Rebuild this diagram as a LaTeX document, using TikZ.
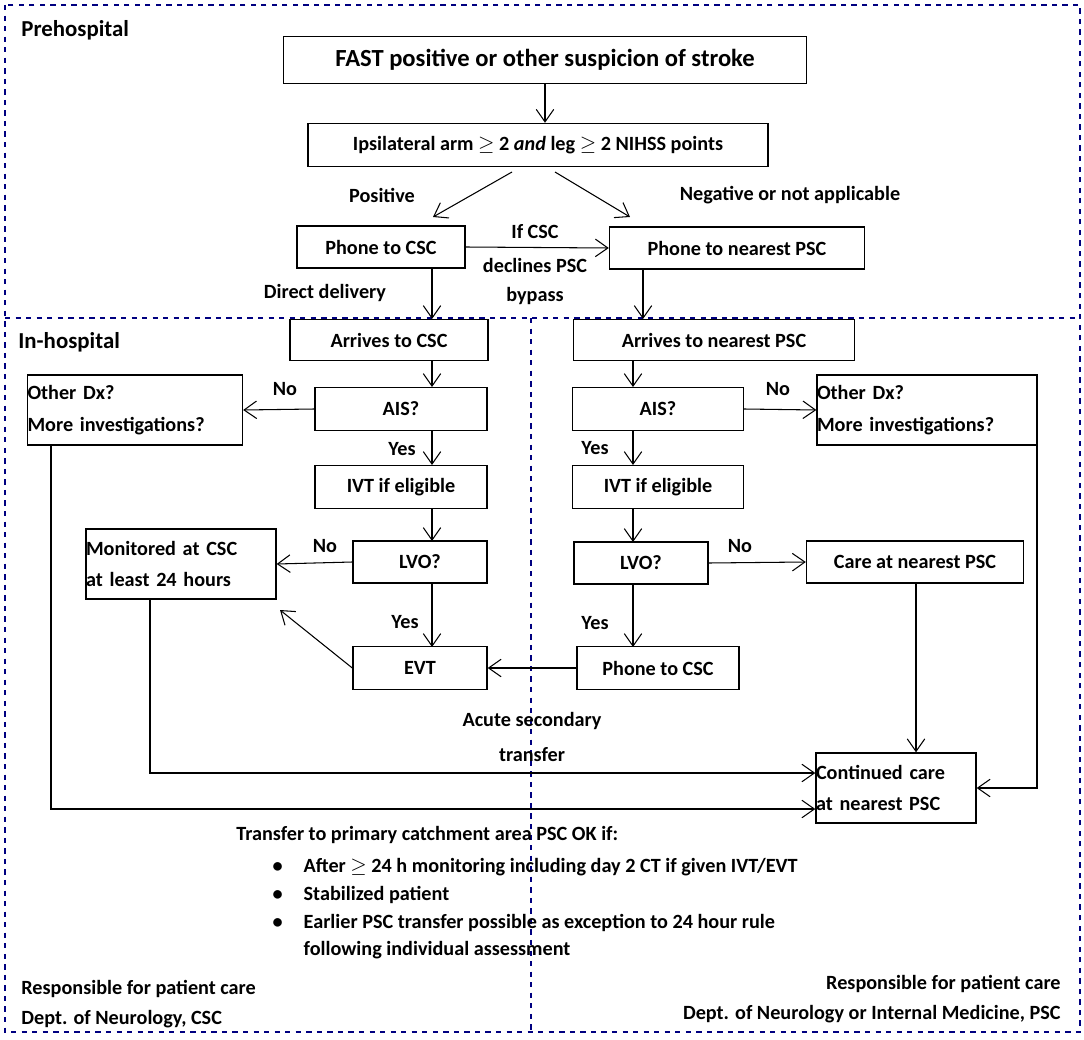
\documentclass[tikz,border=0pt]{standalone}
\usepackage{fontspec}
\setmainfont{Carlito}
\usepackage{amssymb}
\usetikzlibrary{positioning}
\usetikzlibrary{arrows.meta}
\newcommand{\px}{0.02cm}

\begin{document}
\begin{tikzpicture}[%
    x=0.02cm, y=-0.02cm,
    font=\bfseries\fontsize{11.5}{14}\selectfont,
    >={Straight Barb[length=2.5mm,width=3.5mm]},
    semithick,
box/.style={rectangle, draw, thick, inner sep=0pt, align=center},
lbox/.style={rectangle, draw, thick, inner sep=0pt, align=left, text width=#1},
zone/.style={draw=blue!50!black, dashed, thick},
lab/.style={align=center, inner sep=1pt},
]
\useasboundingbox (0,0) rectangle (1084,1040);

% Zones
\draw[zone] (5,5) rectangle (1080,1032);
\draw[zone] (5,318) -- (1080,318);
\draw[zone] (531,318) -- (531,1032);
\node[anchor=west, font=\bfseries\fontsize{13}{15}\selectfont] (prehosp) at (15,30) {Prehospital};
\node[anchor=west, font=\bfseries\fontsize{13}{15}\selectfont] (inhosp) at (12,342) {In-hospital};

% Prehospital
\node[box, minimum width=523*\px, minimum height=47*\px, font=\bfseries\fontsize{14}{16}\selectfont] (fast) at (545,60) {FAST positive or other suspicion of stroke};
\node[box, minimum width=460*\px, minimum height=43*\px] (nihss) at (538,145) {Ipsilateral arm $\geq$ 2 \textit{and} leg $\geq$ 2 NIHSS points};
\node[box, minimum width=168*\px, minimum height=42*\px] (phonecsc) at (381,247) {Phone to CSC};
\node[box, minimum width=255*\px, minimum height=42*\px] (phonepsc) at (737,248) {Phone to nearest PSC};
\coordinate (nihssL) at (512,172);
\coordinate (nihssR) at (555,172);
\coordinate (csctip) at (433,217);
\coordinate (psctip) at (630,217);
\draw[->] (fast) -- (fast |- nihss.north);
\draw[->] (nihssL) -- (csctip);
\draw[->] (nihssR) -- (psctip);
\node[lab] (positive) at (382,195) {Positive};
\node[lab] (negative) at (790,195) {Negative or not applicable};
\draw[->] (phonecsc.east) -- (phonepsc.west);
\node[lab] (ifcsc) at (535,232) {If CSC};
\node[lab] (declines) at (535,265) {declines PSC};
\node[lab] (bypass) at (535,296) {bypass};

% CSC side
\node[box, minimum width=198*\px, minimum height=41*\px] (arrcsc) at (389,340) {Arrives to CSC};
\node[box, minimum width=172*\px, minimum height=43*\px] (aiscsc) at (401,409) {AIS?};
\node[lbox=4.3cm, minimum height=70*\px] (dxcsc) at (135,410) {Other Dx?\\[4pt]More investigations?};
\node[box, minimum width=172*\px, minimum height=43*\px] (ivtcsc) at (401,487) {IVT if eligible};
\node[box, minimum width=134*\px, minimum height=42*\px] (lvocsc) at (420,562) {LVO?};
\node[lbox=3.8cm, minimum height=70*\px] (moncsc) at (181,564) {Monitored at CSC\\[4pt]at least 24 hours};
\node[box, minimum width=134*\px, minimum height=43*\px] (evt) at (420,668) {EVT};
\draw[->] (432,268) -- (432,319);
\node[lab] (direct) at (325,293) {Direct delivery};
\draw[->] (432,360) -- (432,387);
\draw[->] (aiscsc.west) -- (dxcsc.east);
\node[lab] (nocsc) at (285,389) {No};
\draw[->] (432,430) -- (432,465);
\node[lab] (yescsc) at (402,449) {Yes};
\draw[->] (432,508) -- (432,541);
\draw[->] (lvocsc.west) -- (moncsc.east);
\node[lab] (nolvocsc) at (325,546) {No};
\draw[->] (432,583) -- (432,647);
\node[lab] (yeslvocsc) at (405,622) {Yes};
\draw[->] (evt.west) -- (280,610);

% PSC side
\node[box, minimum width=281*\px, minimum height=41*\px] (arrpsc) at (714,340) {Arrives to nearest PSC};
\node[box, minimum width=171*\px, minimum height=43*\px] (aispsc) at (658,409) {AIS?};
\node[lbox=4.4cm, minimum height=70*\px] (dxpsc) at (927,410) {Other Dx?\\[4pt]More investigations?};
\node[box, minimum width=171*\px, minimum height=43*\px] (ivtpsc) at (658,487) {IVT if eligible};
\node[box, minimum width=134*\px, minimum height=42*\px] (lvopsc) at (641,563) {LVO?};
\node[box, minimum width=217*\px, minimum height=42*\px] (carepsc) at (915,562) {Care at nearest PSC};
\node[box, minimum width=162*\px, minimum height=43*\px] (phonecsc2) at (658,668) {Phone to CSC};
\node[lbox=3.2cm, minimum height=70*\px] (contcare) at (896,788) {Continued care\\[4pt]at nearest PSC};
\draw[->] (643,269) -- (643,319);
\draw[->] (633,360) -- (633,387);
\draw[->] (aispsc.east) -- (dxpsc.west);
\node[lab] (nopsc) at (778,389) {No};
\draw[->] (633,430) -- (633,465);
\node[lab] (yespsc) at (595,448) {Yes};
\draw[->] (633,508) -- (633,542);
\draw[->] (lvopsc.east) -- (carepsc.west);
\node[lab] (nolvopsc) at (740,546) {No};
\draw[->] (633,584) -- (633,647);
\node[lab] (yeslvopsc) at (595,623) {Yes};
\draw[->] (phonecsc2.west) -- (evt.east);
\node[lab] (acute) at (532,737) {Acute secondary\\[6pt]transfer};

% To continued care
\draw[->] (dxcsc.south -| 51,0) -- (51,809) -- (contcare.west |- 0,809);
\draw[->] (moncsc.south -| 150,0) -- (150,773) -- (contcare.west |- 0,773);
\draw[->] (carepsc.south -| 916,0) -- (contcare.north -| 916,0);
\draw[->] (dxpsc.south -| 1037,0) -- (1037,788) -- (contcare.east |- 0,788);

% Transfer criteria
\node[anchor=west] (crit) at (230,835) {Transfer to primary catchment area PSC OK if:};
\node[anchor=north west, align=left, inner sep=0pt, font=\bfseries\fontsize{11.5}{15.8}\selectfont] (critlist) at (272,858) {%
\textbullet\hspace{12pt}After $\geq$ 24 h monitoring including day 2 CT if given IVT/EVT\\
\textbullet\hspace{12pt}Stabilized patient\\
\textbullet\hspace{12pt}Earlier PSC transfer possible as exception to 24 hour rule\\
\phantom{\textbullet}\hspace{12pt}following individual assessment};

% Responsibility
\node[anchor=west, align=left] (respcsc) at (15,1004) {Responsible for patient care\\[3pt]Dept. of Neurology, CSC};
\node[anchor=east, align=right] (resppsc) at (1067,999) {Responsible for patient care\\[3pt]Dept. of Neurology or Internal Medicine, PSC};
\end{tikzpicture}
\end{document}
